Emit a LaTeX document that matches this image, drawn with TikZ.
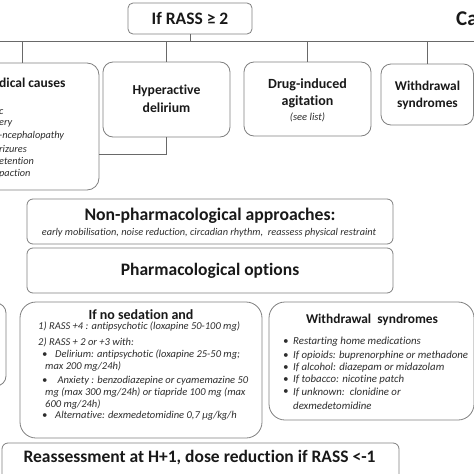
\documentclass[tikz,border=0pt]{standalone}
\usepackage{fontspec}
\setmainfont{Carlito}[Ligatures=NoCommon]
\definecolor{bordergray}{RGB}{128,128,128}
\definecolor{linegray}{RGB}{105,105,105}
\definecolor{txt}{RGB}{25,25,25}
\definecolor{itx}{RGB}{45,45,45}
\tikzset{
  boxr/.style={draw=bordergray, line width=0.8pt, rounded corners=#1, inner sep=0pt, fill=white},
  conn/.style={draw=linegray, line width=0.9pt},
  ttl/.style={font=\bfseries\fontsize{#1}{#1}\selectfont, text=txt, inner sep=0pt, align=center},
  itl/.style={font=\itshape\fontsize{#1}{#1}\selectfont, text=itx, inner sep=0pt, anchor=west},
}
\begin{document}
\begin{tikzpicture}[x=1pt,y=-1pt]
\useasboundingbox (0,0) rectangle (474,474);
\clip (0,0) rectangle (474,474);
\fill[white] (0,0) rectangle (474,474);

% top
\node[boxr=5pt, minimum width=124pt, minimum height=31pt] (rass) at (190,18.5) {};
\node[ttl=17.5] (rasst) at (rass.center) {If RASS ≥ 2};
\node[font=\bfseries\fontsize{21}{21}\selectfont, text=txt, inner sep=0pt, anchor=west] (ca) at (456,19) {Ca};

% bus
\coordinate (busL) at (-5,41);
\coordinate (busR) at (480,41);
\coordinate (m1) at (22,41);
\draw[conn] (rass.south) -- (rass.south |- busL);
\draw[conn] (busL) -- (busR);

% second row boxes
\node[boxr=12pt, minimum width=119pt, minimum height=127pt] (med) at (39.5,126.5) {};
\node[boxr=10pt, minimum width=127pt, minimum height=75pt] (hyp) at (166.5,99.5) {};
\node[boxr=10pt, minimum width=127pt, minimum height=74pt] (drug) at (307.5,99) {};
\node[boxr=10pt, minimum width=92.5pt, minimum height=61pt] (wd) at (427.25,94.5) {};

\draw[conn] (m1) -- (m1 |- med.north);
\draw[conn] (hyp.north |- busL) -- (hyp.north);
\draw[conn] (drug.north |- busL) -- (drug.north);
\draw[conn] (wd.north |- busL) -- (wd.north);
\coordinate (hm) at (99,154);
\draw[conn] (hyp.south) |- (hm);

% second row texts
\node[ttl=13.5, anchor=west] (medt) at (-1,83) {dical causes};
\node[itl=10.3] (m1t) at (-1,112) {c};
\node[itl=10.3] (m2t) at (-1,123.5) {ery};
\node[itl=10.3] (m3t) at (-1,136) {-ncephalopathy};
\node[itl=10.3] (m4t) at (-1,148.5) {rizures};
\node[itl=10.3] (m5t) at (-1,161) {etention};
\node[itl=10.3] (m6t) at (-1,174) {paction};

\node[ttl=13.7] (hypt1) at (166.5,91) {Hyperactive};
\node[ttl=13.7] (hypt2) at (166.5,108) {delirium};

\node[ttl=14] (drugt1) at (307.5,85) {Drug-induced};
\node[ttl=14] (drugt2) at (307.5,102) {agitation};
\node[font=\itshape\fontsize{10.5}{10.5}\selectfont, text=itx, inner sep=0pt] (drugt3) at (307.5,117) {(see list)};

\node[ttl=13.4] (wdt1) at (427.5,86) {Withdrawal};
\node[ttl=13.4] (wdt2) at (427.5,104) {syndromes};

% middle boxes
\node[boxr=6pt, minimum width=366pt, minimum height=45pt] (np) at (210,221.5) {};
\node[ttl=17.7] (npt) at (210,216) {Non-pharmacological approaches:};
\node[font=\itshape\fontsize{10.3}{10.3}\selectfont, text=itx, inner sep=0pt] (nps) at (209,233) {early mobilisation, noise reduction, circadian rhythm,\ \ reassess physical restraint};

\node[boxr=6pt, minimum width=366pt, minimum height=45pt] (ph) at (210,270.5) {};
\node[ttl=17.5] (pht) at (210,271) {Pharmacological options};

% lower boxes
\node[boxr=10pt, minimum width=36pt, minimum height=83pt] (lb) at (-12,344.5) {};
\node[boxr=16pt, minimum width=242pt, minimum height=136pt] (ns) at (141,370) {};
\node[boxr=16pt, minimum width=205pt, minimum height=118pt] (ws) at (371.5,361) {};

\node[ttl=14] (nst) at (141,315) {If no sedation and};
\node[itl=10.5] (ns1) at (38,327) {1) RASS +4 : antipsychotic (loxapine 50-100 mg)};
\node[itl=10.5] (ns2) at (38,342) {2) RASS + 2 or +3 with:};
\node[itl=10.5] (nsb1) at (42,355) {•};
\node[itl=10.5] (ns3) at (55,355) {Delirium: antipsychotic (loxapine 25-50 mg;};
\node[itl=10.5] (ns4) at (45,367) {max 200 mg/24h)};
\node[itl=10.5] (nsb2) at (42,381) {•};
\node[itl=10.5] (ns5) at (55,381) {\ Anxiety : benzodiazepine or cyamemazine 50};
\node[itl=10.5] (ns6) at (45,393) {mg (max 300 mg/24h) or tiapride 100 mg (max};
\node[itl=10.5] (ns7) at (45,404.5) {600 mg/24h)};
\node[itl=10.5] (nsb3) at (42,416) {•};
\node[itl=10.5] (ns8) at (55,416) {Alternative: dexmedetomidine 0,7 µg/kg/h};

\node[ttl=13.4] (wst) at (372,320) {Withdrawal\ \ syndromes};
\node[itl=10.8] (wsb1) at (283,342) {•};
\node[itl=10.8] (ws1) at (293,342) {Restarting home medications};
\node[itl=10.8] (wsb2) at (283,356) {•};
\node[itl=10.8] (ws2) at (293,356) {If opioids: buprenorphine or methadone};
\node[itl=10.8] (wsb3) at (283,368) {•};
\node[itl=10.8] (ws3) at (293,368) {If alcohol: diazepam or midazolam};
\node[itl=10.8] (wsb4) at (283,380) {•};
\node[itl=10.8] (ws4) at (293,380) {If tobacco: nicotine patch};
\node[itl=10.8] (wsb5) at (283,392) {•};
\node[itl=10.8] (ws5) at (293,392) {If unknown:\ \ clonidine or};
\node[itl=10.8] (ws6) at (293,405.5) {dexmedetomidine};

% bottom
\node[boxr=6pt, minimum width=397pt, minimum height=47pt] (re) at (200.5,466.5) {};
\node[ttl=17.5] (ret) at (199.5,458) {Reassessment at H+1, dose reduction if RASS <-1};
\end{tikzpicture}
\end{document}
